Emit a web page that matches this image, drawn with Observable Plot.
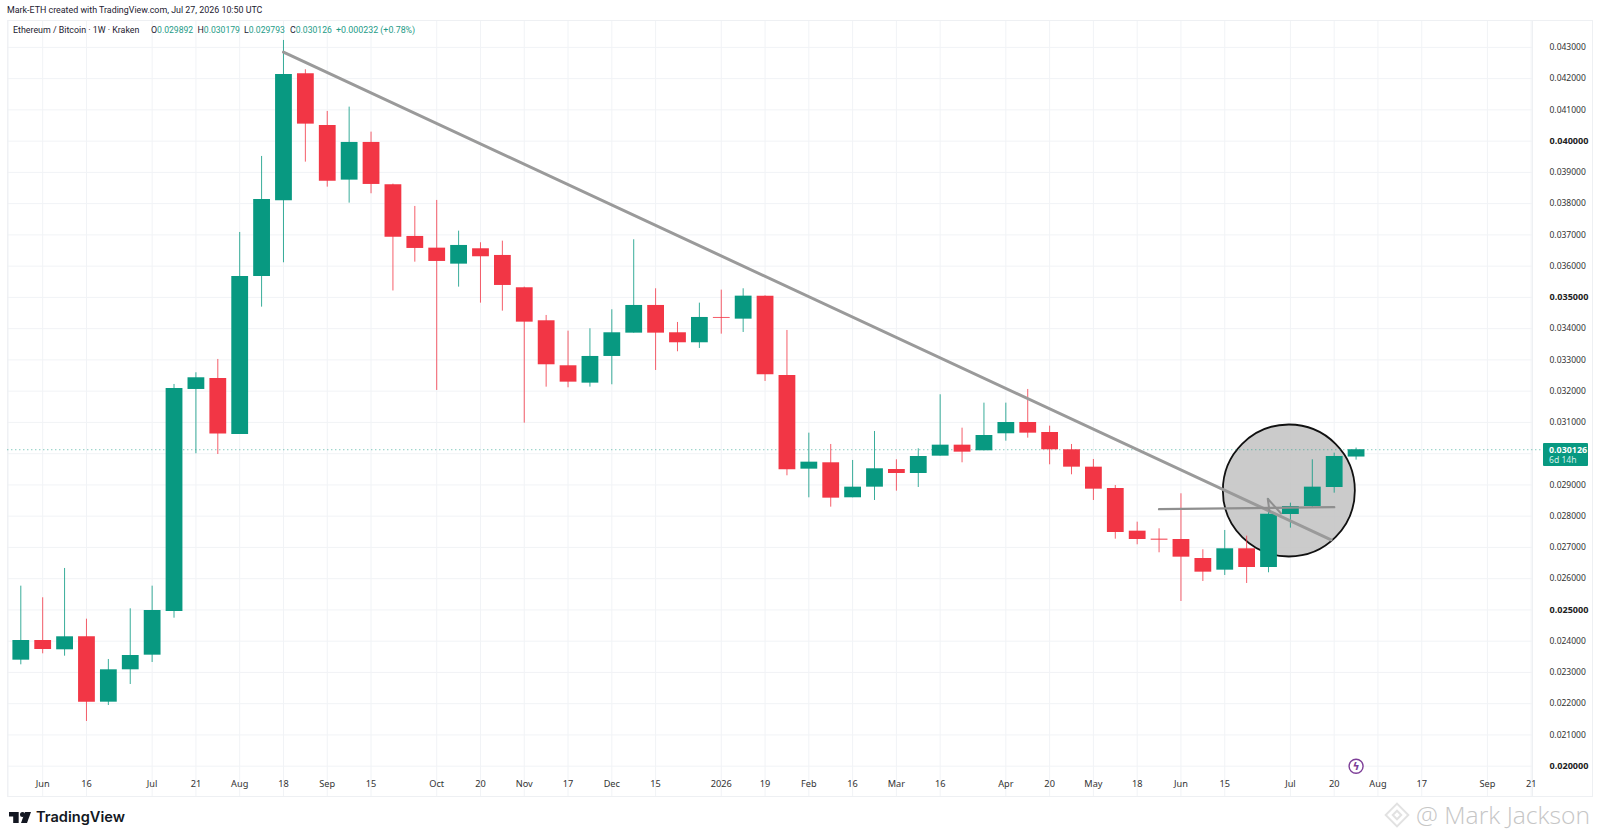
<!DOCTYPE html>
<html>
<head>
<meta charset="utf-8">
<script src="https://cdn.jsdelivr.net/npm/d3@7"></script>
<script src="https://cdn.jsdelivr.net/npm/@observablehq/plot@0.6"></script>
<style>
  html,body{margin:0;padding:0;background:#fff;}
  #wrap{position:relative;width:1600px;height:840px;overflow:hidden;font-family:Roboto,sans-serif;color:#1c2030;}
  #wrap svg{display:block;}
  .t{position:absolute;white-space:pre;line-height:1;}
  .v{color:#1e9b87;font-size:8.6px;}
</style>
</head>
<body>
<div id="wrap">
  <div class="t" id="created" style="left:7px;top:6px;font-size:8.9px;">Mark-ETH created with TradingView.com, Jul 27, 2026 10:50 UTC</div>
  <div class="t" style="left:13px;top:26px;font-size:8.85px;">Ethereum / Bitcoin · 1W · Kraken</div>
  <div class="t" style="left:151px;top:26px;font-size:8.85px;">O<span class="v">0.029892</span></div>
  <div class="t" style="left:197.5px;top:26px;font-size:8.85px;">H<span class="v">0.030179</span></div>
  <div class="t" style="left:244px;top:26px;font-size:8.85px;">L<span class="v">0.029793</span></div>
  <div class="t" style="left:290px;top:26px;font-size:8.85px;">C<span class="v">0.030126</span></div>
  <div class="t v" style="left:336px;top:26px;font-size:8.85px;">+0.000232 (+0.78%)</div>
  <div style="position:absolute;left:1543.3px;top:443.3px;width:45px;height:22.7px;background:#089981;border-radius:1px;"></div>
  <div class="t" style="left:1549px;top:445.5px;font-size:8.9px;font-weight:700;color:#fff;font-family:'Noto Sans',sans-serif;">0.030126</div>
  <div class="t" style="left:1549px;top:455.5px;font-size:8.6px;color:#d6efe9;font-family:'Noto Sans',sans-serif;">6d 14h</div>
  <div style="position:absolute;left:8.7px;top:812px;width:10px;height:11px;background:#131722;clip-path:polygon(0 0,100% 0,100% 100%,45% 100%,45% 40%,0 40%);"></div>
  <div style="position:absolute;left:19.5px;top:812px;width:5px;height:5px;border-radius:50%;background:#131722;"></div>
  <div style="position:absolute;left:21px;top:812px;width:10px;height:11px;background:#131722;clip-path:polygon(40% 0,100% 0,60% 100%,0 100%);"></div>
  <div class="t" style="left:36px;top:809.5px;font-family:Inter,sans-serif;font-weight:600;font-size:14.6px;color:#131722;">TradingView</div>
  <div style="position:absolute;left:1388px;top:806px;width:18px;height:18px;border:2px solid #e2e2e2;transform:rotate(45deg);box-sizing:border-box;"></div>
  <div style="position:absolute;left:1393px;top:811px;width:8px;height:8px;border:2px solid #e2e2e2;transform:rotate(45deg);box-sizing:border-box;"></div>
  <div class="t" style="left:1416px;top:802.5px;font-family:'Open Sans',sans-serif;font-weight:300;font-size:24.7px;color:#c6c6c6;">@ Mark Jackson</div>
</div>
<script>
const firstWeek = "2025-05-26";
const lastWeek = "2026-07-27";

const opens = [
  0.023392,0.024022,0.023724,0.024140,0.022048,0.023084,0.023552,0.024950,0.032054,0.032406,
  0.030614,0.035670,0.038092,0.042156,0.040502,0.038752,0.039958,0.038604,0.036950,0.036576,
  0.036064,0.036556,0.036342,0.035308,0.034252,0.032812,0.032256,0.033110,0.033856,0.034742,
  0.033868,0.033548,0.034358,0.034304,0.035040,0.032502,0.029504,0.029708,0.028588,0.028928,
  0.029494,0.029366,0.029920,0.030272,0.030092,0.030636,0.030998,0.030678,0.030124,0.029568,
  0.028886,0.027520,0.027264,0.027254,0.026646,0.026272,0.026956,0.026358,0.028054,0.028310,
  0.028918,0.029892];
const highs = [
  0.025760,0.025388,0.026326,0.024704,0.023414,0.025036,0.025760,0.032214,0.032588,0.033014,
  0.037078,0.039510,0.043222,0.042284,0.040950,0.041088,0.040288,0.038624,0.037910,0.038102,
  0.037120,0.036748,0.036800,0.035328,0.034422,0.033920,0.033996,0.034604,0.036844,0.035276,
  0.034198,0.034816,0.035232,0.035276,0.035050,0.033942,0.030656,0.030294,0.029782,0.030710,
  0.029804,0.030156,0.031884,0.030816,0.031616,0.031616,0.032054,0.030880,0.030294,0.029814,
  0.028982,0.027808,0.027596,0.028716,0.026924,0.027542,0.027360,0.028556,0.028416,0.029804,
  0.030016,0.030179];
const lows = [
  0.023244,0.023596,0.023520,0.021430,0.021942,0.022614,0.023318,0.024736,0.029996,0.029974,
  0.030614,0.034688,0.036108,0.039328,0.038528,0.038016,0.038316,0.035206,0.036128,0.032022,
  0.035328,0.034816,0.034560,0.030976,0.032128,0.032108,0.032128,0.032204,0.033856,0.032662,
  0.033260,0.033366,0.033824,0.033878,0.032310,0.029292,0.028588,0.028288,0.028588,0.028502,
  0.028800,0.028918,0.029920,0.029708,0.030092,0.030400,0.030496,0.029644,0.029324,0.028502,
  0.027264,0.027084,0.026828,0.025270,0.025910,0.026102,0.025846,0.026188,0.027616,0.028256,
  0.028736,0.029793];
const closes = [
  0.024022,0.023734,0.024140,0.022048,0.023084,0.023542,0.024982,0.032086,0.032428,0.030630,
  0.035670,0.038134,0.042134,0.040544,0.038720,0.039958,0.038614,0.036928,0.036566,0.036150,
  0.036662,0.036300,0.035382,0.034208,0.032844,0.032288,0.033110,0.033868,0.034742,0.033856,
  0.033548,0.034358,0.034332,0.035040,0.032524,0.029484,0.029728,0.028576,0.028928,0.029516,
  0.029366,0.029910,0.030272,0.030048,0.030582,0.030998,0.030656,0.030124,0.029568,0.028864,
  0.027478,0.027254,0.027232,0.026688,0.026208,0.026956,0.026358,0.028064,0.028310,0.028928,
  0.029910,0.030126];

const tickDates = ["2025-06-02","2025-06-16","2025-07-07","2025-07-21","2025-08-04","2025-08-18","2025-09-01","2025-09-15",
  "2025-10-06","2025-10-20","2025-11-03","2025-11-17","2025-12-01","2025-12-15","2026-01-05","2026-01-19",
  "2026-02-02","2026-02-16","2026-03-02","2026-03-16","2026-04-06","2026-04-20","2026-05-04","2026-05-18",
  "2026-06-01","2026-06-15","2026-07-06","2026-07-20","2026-08-03","2026-08-17","2026-09-07","2026-09-21"];
const tickLabels = ["Jun","16","Jul","21","Aug","18","Sep","15","Oct","20","Nov","17","Dec","15","2026","19",
  "Feb","16","Mar","16","Apr","20","May","18","Jun","15","Jul","20","Aug","17","Sep","21"];
const priceTicks = [0.021,0.022,0.023,0.024,0.026,0.027,0.028,0.029,0.031,0.032,0.033,0.034,0.036,0.037,0.038,0.039,0.041,0.042,0.043];
const boldPriceTicks = [0.020,0.025,0.035,0.040];
const gridPrices = [...priceTicks, ...boldPriceTicks, 0.030];

const lastPrice = 0.030126;
const trendDates = ["2025-08-18","2026-07-19"];
const trendPrices = [0.042848,0.027244];
const levelDates = ["2026-05-25","2026-07-20"];
const levelPrices = [0.028224,0.028288];
const wedgeDates = ["2026-07-03","2026-06-28T18:00Z","2026-06-29T08:00Z"];
const wedgePrices = [0.028086,0.028556,0.028150];
const circleDate = "2026-07-05T12:00Z";
const circlePrice = 0.028822;
const flashDate = "2026-07-27";
const flashPrice = 0.020;

const GREEN = "#089981", RED = "#F23645", GRID = "#f1f3f6";

const weeks = d3.utcMonday.range(new Date(firstWeek), d3.utcDay.offset(new Date(lastWeek), 1));
const candles = weeks.map((date, i) => ({date, open: opens[i], high: highs[i], low: lows[i], close: closes[i],
  color: closes[i] >= opens[i] ? GREEN : RED}));
const pts = (ds, ps) => ds.map((d, i) => ({date: new Date(d), price: ps[i]}));
const ticks = tickDates.map((d, i) => ({date: new Date(d), label: tickLabels[i]}));

const chart = Plot.plot({
  width: 1600,
  height: 840,
  marginLeft: 7.3,
  marginRight: 68,
  marginTop: 20,
  marginBottom: 44,
  style: {fontFamily: '"Noto Sans", sans-serif', background: "#fff", color: "#1c2030", overflow: "visible"},
  x: {type: "utc", domain: [new Date("2025-05-21T20:15Z"), new Date("2026-09-21T10:00Z")], axis: null},
  y: {type: "linear", domain: [0.01903, 0.04386], axis: null},
  marks: [
    Plot.ruleX(ticks, {x: "date", stroke: GRID, strokeWidth: 1}),
    Plot.ruleY(gridPrices, {stroke: GRID, strokeWidth: 1}),
    Plot.frame({stroke: "#eef0f3", strokeWidth: 1}),
    Plot.frame({stroke: "#eef0f3", strokeWidth: 1, insetRight: -60}),
    Plot.dot([{date: new Date(circleDate), price: circlePrice}], {x: "date", y: "price", r: 66, fill: "#c4c4c4", fillOpacity: 0.88, stroke: "#111", strokeWidth: 1.8}),
    Plot.ruleY([lastPrice], {stroke: "#1a9c88", strokeWidth: 1, strokeOpacity: 0.75, strokeDasharray: "1 3", insetRight: -11}),
    Plot.ruleX(candles, {x: "date", y1: "low", y2: "high", stroke: "color", strokeWidth: 1, strokeOpacity: 0.8}),
    Plot.ruleX(candles, {x: "date", y1: "open", y2: "close", stroke: "color", strokeWidth: 16.8}),
    Plot.line(pts(trendDates, trendPrices), {x: "date", y: "price", stroke: "#9a9a9a", strokeWidth: 3}),
    Plot.line(pts(levelDates, levelPrices), {x: "date", y: "price", stroke: "#8f8f8f", strokeWidth: 2.4}),
    Plot.line(pts(wedgeDates, wedgePrices), {x: "date", y: "price", stroke: "#8f8f8f", strokeWidth: 2}),
    Plot.dot([{date: new Date(flashDate), price: flashPrice}], {x: "date", y: "price", r: 7, fill: "#fff", stroke: "#7e3f98", strokeWidth: 1.4}),
    Plot.text([{date: new Date(flashDate), price: flashPrice}], {x: "date", y: "price", text: () => "ϟ", fill: "#7e3f98", fontSize: 11, fontWeight: 700, fontFamily: "DejaVu Sans"}),
    Plot.axisY(priceTicks, {anchor: "right", tickSize: 0, tickPadding: 17, tickFormat: d3.format(".6f"), label: null, fontSize: 8.5, fill: "#333"}),
    Plot.axisY(boldPriceTicks, {anchor: "right", tickSize: 0, tickPadding: 17, tickFormat: d3.format(".6f"), label: null, fontSize: 9.1, fontWeight: 700, fill: "#222"}),
    Plot.text(ticks, {x: "date", text: "label", frameAnchor: "bottom", dy: -10, fontSize: 9.2, fill: "#333", fontWeight: d => d.label === "2026" ? 700 : 400})
  ]
});
document.getElementById("wrap").prepend(chart);
</script>
</body>
</html>
